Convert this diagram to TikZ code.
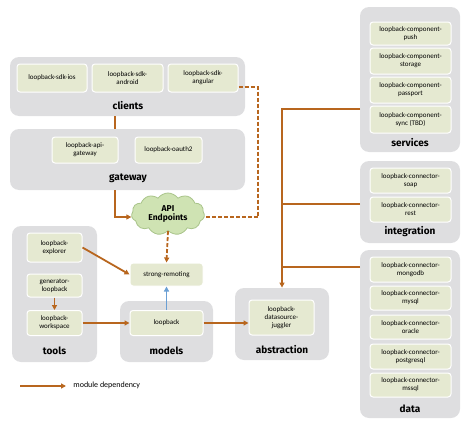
\documentclass[tikz,border=0pt]{standalone}
\usepackage{fontspec}
\setmainfont{Carlito}
\newfontfamily\titlefont{Fira Sans}
\usepackage{xcolor}
\usepackage{tikz}
\usetikzlibrary{arrows.meta,shapes.symbols}

\definecolor{groupgray}{RGB}{222,222,224}
\definecolor{modgreen}{RGB}{229,233,209}
\definecolor{depbrown}{RGB}{184,102,30}
\definecolor{callblue}{RGB}{106,159,212}
\definecolor{cloudfill}{RGB}{207,227,179}
\definecolor{cloudline}{RGB}{169,196,138}

\begin{document}
\begin{tikzpicture}[x=1pt,y=-1pt,thick]
\tikzstyle{group} = [draw=none, fill=groupgray, rounded corners=9pt, inner sep=0pt]
\tikzstyle{module} = [draw=white, line width=1pt, fill=modgreen, rounded corners=3pt, align=center, inner sep=1pt, font=\fontsize{7}{8}\selectfont]
\tikzstyle{title} = [font=\titlefont\bfseries\fontsize{10}{12}\selectfont]
\tikzstyle{dep} = [draw=depbrown, line width=1.8pt, -{Triangle[length=5pt,width=5pt]}]
\tikzstyle{rpc} = [draw=depbrown, line width=1.8pt, dash pattern=on 4pt off 2pt]
\useasboundingbox (0,0) rectangle (474,423);

% clients
\node[group, minimum width=235pt, minimum height=59pt] (clients) at (127.5,86.5) {};
\node[module, minimum width=70pt, minimum height=28pt] (ios) at (52,78) {loopback-sdk-ios};
\node[module, minimum width=71pt, minimum height=28pt] (android) at (127.5,78) {loopback-sdk-\\android};
\node[module, minimum width=70pt, minimum height=28pt] (angular) at (203,78) {loopback-sdk-\\angular};
\node[title] (clientstitle) at (128,106) {clients};

% gateway
\node[group, minimum width=235pt, minimum height=61pt] (gateway) at (127.5,159.5) {};
\node[module, minimum width=66pt, minimum height=26pt] (apigw) at (85,150) {loopback-api-\\gateway};
\node[module, minimum width=67pt, minimum height=26pt] (oauth) at (168.5,150) {loopback-oauth2};
\node[title] (gatewaytitle) at (128,178) {gateway};

% api endpoints
\node[cloud, cloud puffs=11, cloud puff arc=110, aspect=1.8, draw=cloudline, fill=cloudfill, line width=0.8pt,
  minimum width=73pt, minimum height=42pt, inner sep=0pt, align=center,
  font=\titlefont\bfseries\fontsize{8.5}{9.5}\selectfont] (api) at (168,214) {API\\Endpoints};
\node[module, minimum width=73pt, minimum height=23pt] (strong) at (166.5,274.5) {strong-remoting};

% tools
\node[group, minimum width=85pt, minimum height=136pt] (tools) at (54.5,294) {};
\node[module, minimum width=55pt, minimum height=29pt] (explorer) at (54.5,247.5) {loopback-\\explorer};
\node[module, minimum width=55pt, minimum height=23pt] (generator) at (54.5,285.5) {generator-\\loopback};
\node[module, minimum width=55pt, minimum height=25pt] (workspace) at (54.5,323) {loopback-\\workspace};
\node[title] (toolstitle) at (54.5,351) {tools};

% models
\node[group, minimum width=93pt, minimum height=61pt] (models) at (166.5,331.5) {};
\node[module, minimum width=73pt, minimum height=25pt] (loopback) at (166.5,323) {loopback};
\node[title] (modelstitle) at (166.5,351) {models};

% abstraction
\node[group, minimum width=94pt, minimum height=72pt] (abstraction) at (282,324) {};
\node[module, minimum width=65pt, minimum height=35pt] (juggler) at (281.5,317.5) {loopback-\\datasource-\\juggler};
\node[title] (abstractiontitle) at (282,350) {abstraction};

% services
\node[group, minimum width=100pt, minimum height=145pt] (services) at (410,79.5) {};
\node[module, minimum width=81pt, minimum height=23pt] (push) at (410.5,33.5) {loopback-component-\\push};
\node[module, minimum width=81pt, minimum height=26pt] (storage) at (410.5,61) {loopback-component-\\storage};
\node[module, minimum width=81pt, minimum height=26pt] (passport) at (410.5,90) {loopback-component-\\passport};
\node[module, minimum width=81pt, minimum height=27pt] (sync) at (410.5,119.5) {loopback-component-\\sync (TBD)};
\node[title] (servicestitle) at (410,143) {services};

% integration
\node[group, minimum width=100pt, minimum height=82pt] (integration) at (410,202) {};
\node[module, minimum width=81pt, minimum height=25pt] (soap) at (410.5,180.5) {loopback-connector-\\soap};
\node[module, minimum width=81pt, minimum height=25pt] (rest) at (410.5,209.5) {loopback-connector-\\rest};
\node[title] (integrationtitle) at (410,232) {integration};

% data
\node[group, minimum width=100pt, minimum height=168pt] (data) at (410,334) {};
\node[module, minimum width=81pt, minimum height=25pt] (mongodb) at (410.5,269.5) {loopback-connector-\\mongodb};
\node[module, minimum width=81pt, minimum height=24pt] (mysql) at (410.5,298) {loopback-connector-\\mysql};
\node[module, minimum width=81pt, minimum height=24pt] (oracle) at (410.5,327) {loopback-connector-\\oracle};
\node[module, minimum width=81pt, minimum height=25pt] (postgresql) at (410.5,356.5) {loopback-connector-\\postgresql};
\node[module, minimum width=81pt, minimum height=24pt] (mssql) at (410.5,385) {loopback-connector-\\mssql};
\node[title] (datatitle) at (410,409) {data};

% connectors
\coordinate (gwx) at (115,0);
\coordinate (dashtop) at (258,87);
\coordinate (svcin) at (360,109);
\coordinate (intin) at (360,204);
\coordinate (datin) at (360,267);
\draw[draw=depbrown, line width=1.8pt] (clients.south -| gwx) -- (gateway.north -| gwx);
\draw[dep] (gateway.south -| gwx) |- ([yshift=-3pt]api.west);
\draw[rpc] (angular.east |- dashtop) -- (dashtop) |- ([yshift=-3pt]api.east);
\draw[rpc, -{Triangle[length=5pt,width=5pt]}] (api.south) -- (strong.north);
\draw[dep] (explorer.east) -- (strong.west);
\draw[dep] (generator.south) -- (workspace.north);
\draw[dep] (workspace.east) -- (loopback.west);
\draw[draw=callblue, line width=1.8pt, -{Triangle[length=5pt,width=5pt]}] (loopback.north) -- (strong.south);
\draw[dep] (loopback.east) -- (loopback.east -| juggler.west);
\draw[dep] (svcin) -| (abstraction.north);
\draw[draw=depbrown, line width=1.8pt] (intin) -- (intin -| abstraction.north);
\draw[draw=depbrown, line width=1.8pt] (datin) -- (datin -| abstraction.north);

% legend
\coordinate (legstart) at (20,386);
\coordinate (legend) at (66,386);
\node[anchor=west, inner sep=0pt, font=\fontsize{8}{9}\selectfont] (legendtext) at (73,385) {module dependency};
\draw[dep] (legstart) -- (legend);
\end{tikzpicture}
\end{document}
